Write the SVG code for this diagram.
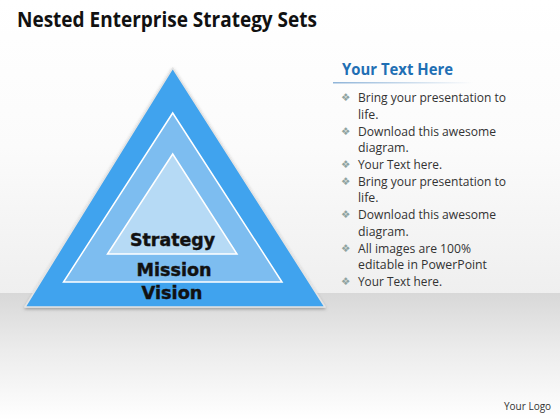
<svg xmlns="http://www.w3.org/2000/svg" width="560" height="420" viewBox="0 0 560 420">
<defs>
<linearGradient id="bgTop" x1="0" y1="0" x2="0" y2="1">
<stop offset="0" stop-color="#ffffff"/>
<stop offset="0.5" stop-color="#fbfbfb"/>
<stop offset="1" stop-color="#efefef"/>
</linearGradient>
<linearGradient id="bgBot" x1="0" y1="0" x2="0" y2="1">
<stop offset="0" stop-color="#d8d8d8"/>
<stop offset="0.45" stop-color="#ececec"/>
<stop offset="1" stop-color="#ffffff"/>
</linearGradient>
<linearGradient id="uline" x1="0" y1="0" x2="1" y2="0">
<stop offset="0" stop-color="#8fb4d8"/>
<stop offset="1" stop-color="#8fb4d8" stop-opacity="0"/>
</linearGradient>
<filter id="sh" x="-10%" y="-10%" width="120%" height="120%">
<feDropShadow dx="0" dy="1.5" stdDeviation="1.5" flood-color="#000" flood-opacity="0.3"/>
</filter>
</defs>
<style>
.title{font-family:"Open Sans","Liberation Sans",sans-serif;font-weight:bold;font-size:21px;fill:#111}
.lbl{font-family:"DejaVu Sans","Liberation Sans",sans-serif;font-weight:bold;font-size:17px;fill:#111;stroke:#111;stroke-width:0.4;text-anchor:middle}
.head{font-family:"Open Sans","Liberation Sans",sans-serif;font-weight:bold;font-size:15.5px;fill:#1f6fb4}
.bt{font-family:"Open Sans","Liberation Sans",sans-serif;font-size:12.3px;fill:#333}
.bul{font-family:"DejaVu Sans",sans-serif;font-size:10.5px;fill:#8fa3a0}
.logo{font-family:"Open Sans","Liberation Sans",sans-serif;font-size:10px;fill:#333}
</style>
<rect x="0" y="0" width="560" height="294" fill="url(#bgTop)"/>
<rect x="0" y="293" width="560" height="127" fill="url(#bgBot)"/>
<text class="title" x="17" y="27" textLength="300" lengthAdjust="spacingAndGlyphs">Nested Enterprise Strategy Sets</text>
<g id="outer">
<polygon points="172.7,68 325,307 25,307" fill="#3fa3ee" stroke="#e4e4e4" stroke-width="1.5" stroke-linejoin="round" filter="url(#sh)"/>
</g>
<g id="middle">
<polygon points="172.7,113 282,282 63.5,282" fill="#7dbdf0" stroke="#ffffff" stroke-width="1.5"/>
</g>
<g id="inner">
<polygon points="172.7,154 237,254 107.5,254" fill="#b6daf5" stroke="#ffffff" stroke-width="1.5"/>
</g>
<g id="labels">
<text class="lbl" x="172.5" y="246" textLength="85" lengthAdjust="spacingAndGlyphs">Strategy</text>
<text class="lbl" x="174" y="276" textLength="75" lengthAdjust="spacingAndGlyphs">Mission</text>
<text class="lbl" x="172" y="299" textLength="61" lengthAdjust="spacingAndGlyphs">Vision</text>
</g>
<g id="textpanel">
<text class="head" x="342" y="75" textLength="111" lengthAdjust="spacingAndGlyphs">Your Text Here</text>
<rect x="333" y="82" width="140" height="1.5" fill="url(#uline)"/>
<g class="bul">
<text x="341" y="101">❖</text>
<text x="341" y="134.5">❖</text>
<text x="341" y="168">❖</text>
<text x="341" y="185">❖</text>
<text x="341" y="218">❖</text>
<text x="341" y="252">❖</text>
<text x="341" y="285">❖</text>
</g>
<text class="bt" x="358" y="102" textLength="148" lengthAdjust="spacingAndGlyphs">Bring your presentation to</text>
<text class="bt" x="358" y="118.5">life.</text>
<text class="bt" x="358" y="135.5" textLength="138" lengthAdjust="spacingAndGlyphs">Download this awesome</text>
<text class="bt" x="358" y="152">diagram.</text>
<text class="bt" x="358" y="168.5" textLength="84" lengthAdjust="spacingAndGlyphs">Your Text here.</text>
<text class="bt" x="358" y="185.5" textLength="148" lengthAdjust="spacingAndGlyphs">Bring your presentation to</text>
<text class="bt" x="358" y="202">life.</text>
<text class="bt" x="358" y="219" textLength="138" lengthAdjust="spacingAndGlyphs">Download this awesome</text>
<text class="bt" x="358" y="235.5">diagram.</text>
<text class="bt" x="358" y="252.5" textLength="113" lengthAdjust="spacingAndGlyphs">All images are 100%</text>
<text class="bt" x="358" y="269" textLength="129" lengthAdjust="spacingAndGlyphs">editable in PowerPoint</text>
<text class="bt" x="358" y="286" textLength="84" lengthAdjust="spacingAndGlyphs">Your Text here.</text>
</g>
<text class="logo" x="504" y="410">Your Logo</text>
</svg>
